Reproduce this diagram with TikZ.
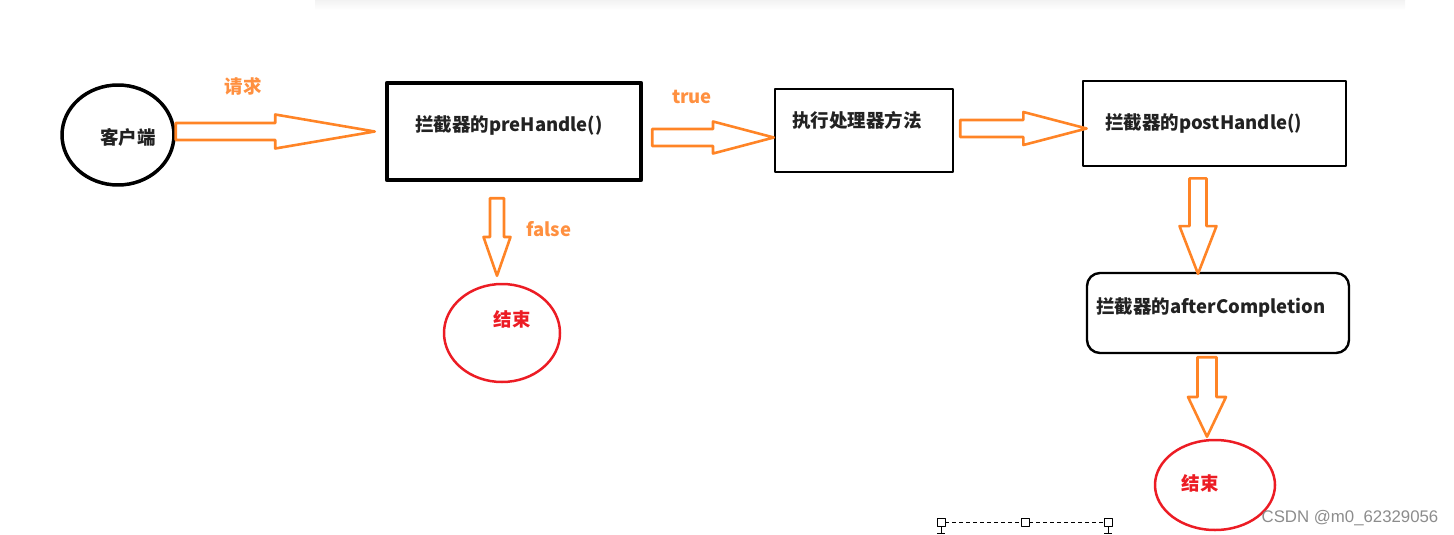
\documentclass[tikz,border=0pt]{standalone}
\usepackage{fontspec}
\setmainfont{Noto Sans CJK SC}
\newfontfamily\wmfont{Liberation Sans}
\usetikzlibrary{shapes.geometric,calc}
\definecolor{arroworange}{HTML}{FF8426}
\definecolor{labelorange}{HTML}{FF9040}
\definecolor{endred}{HTML}{EC1C24}
\definecolor{textgray}{HTML}{222222}
\def\shaftw{8.5pt}
\def\headw{17pt}
\begin{document}
\begin{tikzpicture}[x=1pt,y=-1pt, font=\fontsize{18.5}{22}\selectfont\bfseries, line join=round,
  shaftw/.store in=\shaftw, headw/.store in=\headw,
  box/.style={draw, inner sep=0pt, text=textgray},
  endnode/.style={ellipse, draw=endred, line width=2.5pt, inner sep=0pt, text=endred},
  lbl/.style={text=labelorange, font=\fontsize{18.5}{22}\selectfont\bfseries},
  rarrow/.style={draw=arroworange, line width=2.6pt,
    to path={let \p1=(\tikztostart), \p2=(\tikztotarget), \p3=($(\tikztostart)!.5!(\tikztotarget)$) in
      (\x1,{\y2+\shaftw}) -- (\x3,{\y2+\shaftw}) -- (\x3,{\y2+\headw}) -- (\x2,\y2)
      -- (\x3,{\y2-\headw}) -- (\x3,{\y2-\shaftw}) -- (\x1,{\y2-\shaftw}) -- cycle}},
  darrow/.style={draw=arroworange, line width=2.6pt,
    to path={let \p1=(\tikztostart), \p2=(\tikztotarget), \p3=($(\tikztostart)!.5!(\tikztotarget)$) in
      ({\x2-\shaftw},\y1) -- ({\x2-\shaftw},\y3) -- ({\x2-\headw},\y3) -- (\x2,\y2)
      -- ({\x2+\headw},\y3) -- ({\x2+\shaftw},\y3) -- ({\x2+\shaftw},\y1) -- cycle}}]
\useasboundingbox (0,0) rectangle (1454,535);
% window shadow on top
\shade[top color=black!5, bottom color=white] (315,0) rectangle (1405,10);

% nodes
\node[box, ellipse, line width=3.5pt, minimum width=112pt, minimum height=100pt,
  text height=24pt, text depth=6pt] (cli) at (118,135) {\hspace*{20pt}客户端};
\node[box, line width=4.5pt, minimum width=254pt, text height=48pt, text depth=49pt] (pre) at (514,131.5) {拦截器的preHandle()\hspace*{10pt}};
\node[box, line width=2.4pt, minimum width=178pt, text height=38pt, text depth=45pt] (exec) at (864,130.5) {执行处理器方法\hspace*{14pt}};
\node[box, line width=2.8pt, minimum width=263pt, text height=48pt, text depth=37pt] (post) at (1214.5,123.5) {拦截器的postHandle()\hspace*{22pt}};
\node[box, line width=2.4pt, rounded corners=13pt, minimum width=262pt, text height=40pt, text depth=40pt] (after) at (1218,313) {拦截器的afterCompletion\hspace*{14pt}};
\node[endnode, minimum width=116pt, minimum height=98pt, text height=12pt, text depth=26pt] (end1) at (502,333) {\hspace*{20pt}结束};
\node[endnode, minimum width=120pt, minimum height=90pt, text height=16pt, text depth=6pt] (end2) at (1215,485) {结束\hspace*{30pt}};

% labels
\node[lbl] (req) at (243,86) {请求};
\node[lbl] (ok) at (692,97) {true};
\node[lbl] (fail) at (549,229) {false};

% block arrows
\draw[rarrow] (cli.east) to ([xshift=-10pt]pre.west);
\draw[rarrow, headw=16pt] ([xshift=9pt]pre.east) to ([yshift=-7pt]exec.west);
\draw[rarrow, headw=16.5pt] ([xshift=6pt]exec.east) to ([shift={(5pt,-5pt)}]post.west);
\draw[darrow, headw=18.5pt] ([yshift=-11pt]post.south) to ([shift={(-20pt,-2pt)}]after.north);
\draw[darrow, shaftw=9.5pt, headw=19pt] ([yshift=-3pt]after.south) to ([shift={(-8pt,2pt)}]end2.north);
\draw[darrow, shaftw=7pt, headw=13.5pt] ([yshift=-16pt]pre.south) to ([shift={(-5pt,7pt)}]end1.north);

% selection handles
\draw[line width=0.8pt, dash pattern=on 4pt off 3pt] (945,522) -- (1104,522);
\foreach \hx in {941,1025,1108}
  \draw[line width=1pt, fill=white] (\hx-4,518) rectangle (\hx+4,526);
\foreach \hx in {941,1108}
  \draw[line width=1pt] (\hx,526) -- (\hx,533) (\hx-4,533) -- (\hx+4,533);

% watermark
\node[text=black!45, font=\wmfont\fontsize{16.8}{20}\selectfont] (mark) at (1350,518) {CSDN @m0\_62329056};
\end{tikzpicture}
\end{document}
